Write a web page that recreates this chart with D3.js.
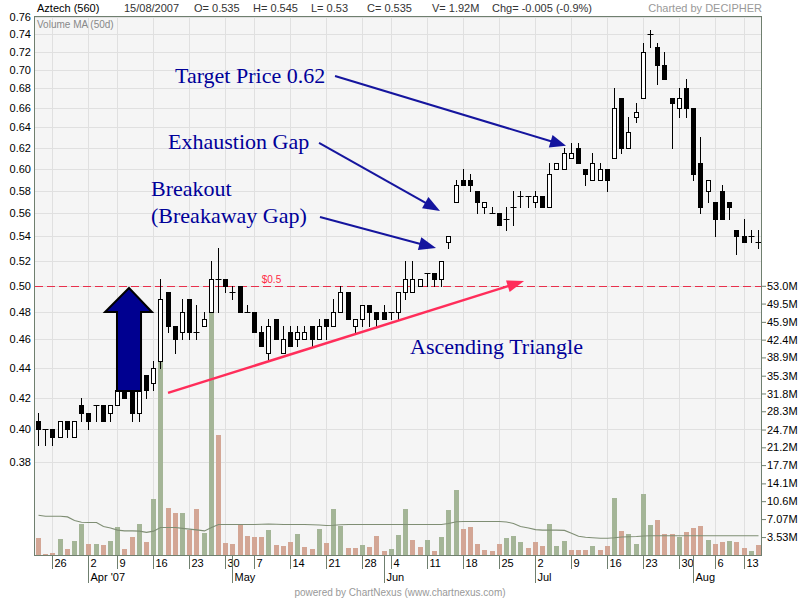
<!DOCTYPE html>
<html><head><meta charset="utf-8">
<script src="https://cdn.jsdelivr.net/npm/d3@7"></script>
<style>
html,body{margin:0;padding:0;background:#fff;}
svg{display:block;}
text{font-family:"Liberation Sans",Arial,sans-serif;}
text.note{font-family:"Liberation Serif","Times New Roman",serif;}
</style></head><body>
<svg id="chart" width="800" height="600"></svg>
<script>
// ---------------- DATA ----------------
const dates = [
"2007-03-22","2007-03-23","2007-03-26","2007-03-27","2007-03-28","2007-03-29","2007-03-30",
"2007-04-02","2007-04-03","2007-04-04","2007-04-05",
"2007-04-09","2007-04-10","2007-04-11","2007-04-12","2007-04-13",
"2007-04-16","2007-04-17","2007-04-18","2007-04-19","2007-04-20",
"2007-04-23","2007-04-24","2007-04-25","2007-04-26","2007-04-27",
"2007-04-30","2007-05-02","2007-05-03","2007-05-04",
"2007-05-07","2007-05-08","2007-05-09","2007-05-10","2007-05-11",
"2007-05-14","2007-05-15","2007-05-16","2007-05-17","2007-05-18",
"2007-05-21","2007-05-22","2007-05-23","2007-05-24","2007-05-25",
"2007-05-28","2007-05-29","2007-05-30","2007-06-01",
"2007-06-04","2007-06-05","2007-06-06","2007-06-07","2007-06-08",
"2007-06-11","2007-06-12","2007-06-13","2007-06-14","2007-06-15",
"2007-06-18","2007-06-19","2007-06-20","2007-06-21","2007-06-22",
"2007-06-25","2007-06-26","2007-06-27","2007-06-28","2007-06-29",
"2007-07-02","2007-07-03","2007-07-04","2007-07-05","2007-07-06",
"2007-07-09","2007-07-10","2007-07-11","2007-07-12","2007-07-13",
"2007-07-16","2007-07-17","2007-07-18","2007-07-19","2007-07-20",
"2007-07-23","2007-07-24","2007-07-25","2007-07-26","2007-07-27",
"2007-07-30","2007-07-31","2007-08-01","2007-08-02","2007-08-03",
"2007-08-06","2007-08-07","2007-08-08","2007-08-10",
"2007-08-13","2007-08-14","2007-08-15"];

const openP = [
.405,.40,.40,.395,.405,.395,.415,.41,.415,.415,
.41,.415,.425,.425,.41,.435,.43,.445,.495,.47,
.465,.49,.465,.47,.48,.505,.505,.495,.50,.48,
.48,.465,.45,.475,.45,.465,.46,.46,.47,.46,
.475,.47,.48,.495,.47,.475,.485,.48,.48,.48,
.48,.495,.495,.50,.51,.51,.505,.535,.57,.59,
.59,.58,.565,.56,.56,.555,.565,.575,.575,.57,
.575,.565,.60,.60,.61,.62,.60,.59,.59,.60,
.61,.67,.62,.65,.67,.74,.725,.705,.67,.66,
.68,.66,.605,.58,.57,.58,.57,.545,.54,.54,.535];

const highP = [
.41,.40,.40,.405,.405,.405,.42,.41,.415,.415,
.415,.425,.425,.425,.425,.435,.445,.505,.495,.47,
.49,.49,.485,.48,.52,.53,.505,.50,.50,.485,
.48,.47,.475,.475,.47,.47,.47,.47,.47,.475,
.475,.49,.50,.495,.475,.485,.485,.48,.485,.48,
.495,.52,.52,.505,.51,.51,.52,.54,.59,.60,
.595,.58,.57,.565,.56,.565,.58,.58,.575,.58,
.575,.605,.605,.62,.625,.625,.60,.615,.605,.60,
.68,.67,.65,.665,.73,.745,.73,.72,.67,.68,
.69,.66,.63,.59,.57,.585,.57,.545,.555,.545,.545];

const lowP = [
.39,.39,.39,.395,.395,.395,.405,.40,.405,.405,
.405,.415,.42,.405,.405,.42,.425,.44,.465,.45,
.46,.46,.46,.47,.48,.48,.495,.49,.48,.48,
.465,.455,.445,.46,.45,.455,.455,.46,.455,.46,
.46,.47,.48,.475,.465,.47,.47,.47,.475,.475,
.475,.49,.495,.50,.50,.50,.50,.53,.57,.585,
.58,.56,.56,.56,.55,.545,.55,.565,.565,.565,
.565,.565,.60,.60,.61,.605,.585,.59,.59,.58,
.61,.615,.62,.645,.67,.725,.685,.69,.62,.65,
.65,.59,.56,.57,.54,.555,.555,.525,.535,.535,.53];

const closeP = [
.40,.40,.395,.405,.40,.405,.41,.405,.415,.405,
.415,.425,.42,.41,.425,.425,.44,.49,.47,.46,
.48,.465,.465,.475,.505,.505,.50,.495,.48,.48,
.465,.455,.47,.46,.46,.455,.465,.465,.46,.47,
.47,.48,.495,.475,.475,.485,.48,.475,.475,.48,
.495,.505,.505,.505,.51,.505,.52,.54,.585,.585,
.585,.57,.57,.56,.55,.555,.565,.575,.575,.575,
.565,.595,.605,.615,.615,.605,.595,.605,.60,.59,
.66,.62,.635,.655,.72,.74,.705,.69,.665,.67,
.66,.595,.565,.59,.555,.555,.565,.54,.535,.54,.535];

// volume in millions of shares
const volume = [
3.39,0.26,0.46,3.13,1.17,2.74,6.13,2.22,2.22,1.96,
2.74,5.48,1.17,3.52,6.13,2.61,10.96,45.0,9.26,8.22,
8.22,4.96,9.0,4.3,53.0,23.7,2.35,2.22,5.87,3.78,
3.52,3.52,4.96,1.96,1.83,2.61,4.17,1.57,1.17,5.09,
2.35,9.0,5.74,1.43,1.43,1.96,1.57,3.78,0.78,1.17,
3.91,9.0,3.0,1.57,2.87,0.78,3.52,8.87,12.79,5.09,
5.48,2.22,1.04,0.78,2.22,3.39,3.78,2.61,1.43,2.48,
1.83,6.13,1.83,2.74,1.04,1.04,0.91,1.76,1.04,1.83,
11.2,4.70,4.17,2.22,12.1,5.87,6.91,4.17,4.17,3.52,
4.44,5.22,5.74,3.0,2.22,2.48,2.74,2.48,1.30,0.78,1.92];

// 1 = up day (green bar), 0 = down/unchanged (salmon bar)
const volUp = [
0,0,0,1,0,1,1,0,1,0,
1,1,0,0,1,0,1,1,0,0,
1,0,0,1,1,0,0,0,0,0,
0,0,1,0,0,0,1,0,0,1,
0,1,1,0,0,1,0,0,0,1,
1,1,0,0,1,0,1,1,1,0,
0,0,0,0,0,1,1,1,0,0,
0,1,1,1,0,0,0,1,0,0,
1,0,1,1,1,1,0,0,0,1,
0,0,0,1,0,0,1,0,0,1,0];

// 50-day volume moving average (millions)
const volMA = [
7.83,7.63,7.63,7.63,7.5,6.8,6.45,6.4,6.4,5.6,
5.3,4.9,4.75,4.75,4.7,4.45,4.7,5.4,5.4,5.4,
5.25,5.1,4.95,4.75,5.4,6.0,6.0,6.0,6.0,6.0,
6.0,6.05,6.1,6.05,6.0,6.0,6.0,6.0,5.95,5.9,
5.8,5.85,5.95,6.0,6.0,6.0,6.0,6.0,6.0,6.0,
6.0,6.0,6.0,6.0,6.0,6.0,6.0,6.2,6.55,6.6,
6.6,6.6,6.6,6.6,6.6,6.5,6.2,5.6,5.3,5.0,
4.9,4.9,4.9,4.85,4.3,3.7,3.5,3.4,3.3,3.3,
3.4,3.55,3.6,3.65,3.75,3.78,3.78,3.78,3.78,3.78,
3.78,3.78,3.78,3.78,3.78,3.78,3.78,3.78,3.78,3.78,3.78];

const priceTicks = [0.38,0.40,0.42,0.44,0.46,0.48,0.50,0.52,0.54,0.56,0.58,0.60,0.62,0.64,0.66,0.68,0.70,0.72,0.74,0.76];
const volTicks = [3.53,7.07,10.6,14.1,17.7,21.2,24.7,28.3,31.8,35.3,38.9,42.4,45.9,49.5,53.0];
const volTickLabels = ["3.53M","7.07M","10.6M","14.1M","17.7M","21.2M","24.7M","28.3M","31.8M","35.3M","38.9M","42.4M","45.9M","49.5M","53.0M"];
const weekTickDates = ["2007-03-26","2007-04-02","2007-04-09","2007-04-16","2007-04-23","2007-04-30","2007-05-07","2007-05-14","2007-05-21","2007-05-28","2007-06-04","2007-06-11","2007-06-18","2007-06-25","2007-07-02","2007-07-09","2007-07-16","2007-07-23","2007-07-30","2007-08-06","2007-08-13"];
const weekTickLabels = ["26","2","9","16","23","30","7","14","21","28","4","11","18","25","2","9","16","23","30","6","13"];
const monthTickDates = ["2007-04-02","2007-05-02","2007-06-01","2007-07-02","2007-08-01"];
const monthTickLabels = ["Apr '07","May","Jun","Jul","Aug"];
const headerItems = ["Aztech (560)","15/08/2007","O= 0.535","H= 0.545","L= 0.53","C= 0.535","V= 1.92M","Chg= -0.005 (-0.9%)"];
const resistance = 0.50;

// ---------------- LAYOUT ----------------
const svg = d3.select("#chart");
const PL = 35, PR = 762, PT = 16, PB = 555;

const x = d3.scaleBand().domain(dates).range([PL, PR]);
const yP = d3.scaleLog().domain([0.38, 0.76]).range([462, 17]);
const yV = d3.scaleLinear().domain([0, 53.0]).range([PB, 285.8]);
const cx = d => Math.floor(x(d) + x.bandwidth() / 2);
const xi = i => PL + x.step() * (i + 0.5);   // fractional bar index -> px
const snap = v => Math.round(v) + 0.5;

// background
svg.append("rect").attr("width", 800).attr("height", 600).attr("fill", "#ffffff");
svg.append("rect").attr("x", PL).attr("y", PT).attr("width", PR - PL).attr("height", PB - PT).attr("fill", "#f5f5f5");

// grid
const grid = svg.append("g");
grid.selectAll("line.h").data(priceTicks).join("line")
  .attr("x1", PL).attr("x2", PR)
  .attr("y1", d => snap(yP(d))).attr("y2", d => snap(yP(d)))
  .attr("stroke", "#e0e0e0").attr("stroke-width", 1);
grid.selectAll("line.v").data(weekTickDates).join("line")
  .attr("x1", d => cx(d) + 0.5).attr("x2", d => cx(d) + 0.5)
  .attr("y1", PT).attr("y2", PB)
  .attr("stroke", "#e0e0e0").attr("stroke-width", 1);

// volume bars
const vb = svg.append("g");
vb.selectAll("rect").data(dates).join("rect")
  .attr("x", d => cx(d) - 2)
  .attr("width", 5)
  .attr("y", (d, i) => Math.round(yV(volume[i])))
  .attr("height", (d, i) => PB - Math.round(yV(volume[i])))
  .attr("fill", (d, i) => volUp[i] ? "#a4b597" : "#d3a695");

// volume MA
svg.append("path")
  .datum(dates)
  .attr("d", d3.line().x(d => cx(d) + 0.5).y((d, i) => yV(volMA[i])))
  .attr("fill", "none").attr("stroke", "#7f8e74").attr("stroke-width", 1.1);

// resistance line
svg.append("line")
  .attr("x1", PL).attr("x2", PR)
  .attr("y1", snap(yP(resistance))).attr("y2", snap(yP(resistance)))
  .attr("stroke", "#e8304c").attr("stroke-width", 1.2)
  .attr("stroke-dasharray", "8,4");
svg.append("text")
  .attr("x", xi(31.0)).attr("y", yP(resistance) - 3)
  .attr("font-size", 10).attr("fill", "#ff2a44")
  .text("$0.5");

// candles
const cg = svg.append("g");
dates.forEach((d, i) => {
  const c = cx(d) + 0.5;
  const o = openP[i], cl = closeP[i];
  cg.append("line")
    .attr("x1", c).attr("x2", c)
    .attr("y1", snap(yP(highP[i])) - 0.5).attr("y2", snap(yP(lowP[i])) + 0.5)
    .attr("stroke", "#000").attr("stroke-width", 1);
  const yt = snap(yP(Math.max(o, cl))), yb = snap(yP(Math.min(o, cl)));
  if (yb - yt < 1) {
    cg.append("line")
      .attr("x1", c - 3).attr("x2", c + 3)
      .attr("y1", yt).attr("y2", yt)
      .attr("stroke", "#000").attr("stroke-width", 1);
  } else {
    cg.append("rect")
      .attr("x", c - 2).attr("width", 4)
      .attr("y", yt).attr("height", yb - yt)
      .attr("fill", cl < o ? "#000" : "#fff")
      .attr("stroke", "#000").attr("stroke-width", 1);
  }
});

// plot frame
svg.append("rect")
  .attr("x", PL - 0.5).attr("y", PT + 0.5).attr("width", PR - PL).attr("height", PB - PT)
  .attr("fill", "none").attr("stroke", "#6f7f6f").attr("stroke-width", 1);

// left price axis
const ax = svg.append("g").attr("transform", `translate(${PL},0)`)
  .call(d3.axisLeft(yP).tickValues(priceTicks).tickFormat(d3.format(".2f")).tickSize(0).tickPadding(4));
ax.select(".domain").remove();
ax.selectAll("text").attr("font-size", 11).attr("fill", "#000");

// right volume axis
const av = svg.append("g").attr("transform", `translate(${PR},0)`)
  .call(d3.axisRight(yV).tickValues(volTicks).tickFormat((d, i) => volTickLabels[i]).tickSize(4).tickPadding(1));
av.select(".domain").remove();
av.selectAll("line").attr("stroke", "#6f7f6f");
av.selectAll("text").attr("font-size", 11).attr("fill", "#000");

// bottom axis: weeks
const aw = svg.append("g").attr("transform", `translate(0,${PB})`)
  .call(d3.axisBottom(x).tickValues(weekTickDates).tickFormat((d, i) => weekTickLabels[i]).tickSize(14).tickPadding(3));
aw.select(".domain").remove();
aw.selectAll(".tick").attr("transform", d => `translate(${cx(d) + 0.5},0)`);
aw.selectAll("line").attr("stroke", "#6f7f6f");
aw.selectAll("text").attr("text-anchor", "start").attr("x", 2).attr("y", 4)
  .attr("font-size", 11).attr("fill", "#000");

// bottom axis: months
const am = svg.append("g").attr("transform", `translate(0,${PB})`)
  .call(d3.axisBottom(x).tickValues(monthTickDates).tickFormat((d, i) => monthTickLabels[i]).tickSize(28).tickPadding(3));
am.select(".domain").remove();
am.selectAll(".tick").attr("transform", d => `translate(${cx(d) + 0.5},0)`);
am.selectAll("line").attr("stroke", "#6f7f6f");
am.selectAll("text").attr("text-anchor", "start").attr("x", 2).attr("y", 18)
  .attr("font-size", 11).attr("fill", "#000");

// header
const hx = [37, 124, 194, 253, 311, 367, 432, 492];
svg.append("g").selectAll("text").data(headerItems).join("text")
  .attr("x", (d, i) => hx[i]).attr("y", 12)
  .attr("font-size", 11).attr("fill", (d, i) => i === 0 ? "#000" : "#333")
  .text(d => d);
svg.append("text").attr("x", 762).attr("y", 12).attr("text-anchor", "end")
  .attr("font-size", 11).attr("fill", "#999").text("Charted by DECIPHER");
svg.append("text").attr("x", 37).attr("y", 28)
  .attr("font-size", 10).attr("fill", "#888").text("Volume MA (50d)");
svg.append("text").attr("x", 400).attr("y", 596).attr("text-anchor", "middle")
  .attr("font-size", 10).attr("fill", "#999")
  .text("powered by ChartNexus (www.chartnexus.com)");

// ---------------- ANNOTATIONS ----------------
const ann = svg.append("g");
function arrow(g, i1, p1, i2, p2, color, w, len, half) {
  const x1 = xi(i1), y1 = yP(p1), x2 = xi(i2), y2 = yP(p2);
  const dx = x2 - x1, dy = y2 - y1, L = Math.hypot(dx, dy);
  const ux = dx / L, uy = dy / L, nx = -uy, ny = ux;
  const bx = x2 - ux * len, by = y2 - uy * len;
  g.append("line").attr("x1", x1).attr("y1", y1).attr("x2", bx + ux * 2).attr("y2", by + uy * 2)
    .attr("stroke", color).attr("stroke-width", w);
  g.append("path")
    .attr("d", `M${x2},${y2}L${bx + nx * half},${by + ny * half}L${bx - nx * half},${by - ny * half}Z`)
    .attr("fill", color);
}
const blue = "#15159e";
arrow(ann, 41.18, 0.6933, 73.27, 0.6218, blue, 2, 16, 6.5);
arrow(ann, 38.96, 0.6246, 55.77, 0.5618, blue, 2, 17, 6.5);
arrow(ann, 39.09, 0.5566, 55.21, 0.5303, blue, 2, 17, 6.5);
arrow(ann, 17.98, 0.4232, 67.44, 0.5037, "#ff2d5a", 2.5, 17, 6);

const notes = [
  {t: "Target Price 0.62", i: 18.95, p: 0.6857},
  {t: "Exhaustion Gap", i: 17.98, p: 0.619},
  {t: "Breakout", i: 15.62, p: 0.5751},
  {t: "(Breakaway Gap)", i: 15.62, p: 0.5514},
  {t: "Ascending Triangle", i: 51.6, p: 0.4496}
];
ann.selectAll("text").data(notes).join("text")
  .attr("class", "note")
  .attr("x", d => xi(d.i)).attr("y", d => yP(d.p))
  .attr("font-size", 22).attr("fill", "#000099")
  .text(d => d.t);

// big up arrow
const tipI = 12.56, tipP = 0.4983, headP = 0.480, botP = 0.4245;
const pts = [
  [xi(tipI), yP(tipP)], [xi(15.75), yP(headP)], [xi(14.23), yP(headP)], [xi(14.23), yP(botP)],
  [xi(10.89), yP(botP)], [xi(10.89), yP(headP)], [xi(9.23), yP(headP)]
];
ann.append("path").attr("d", "M" + pts.map(p => p.join(",")).join("L") + "Z")
  .attr("fill", "#000090").attr("stroke", "#000").attr("stroke-width", 2).attr("stroke-linejoin", "miter");
</script>
</body></html>
